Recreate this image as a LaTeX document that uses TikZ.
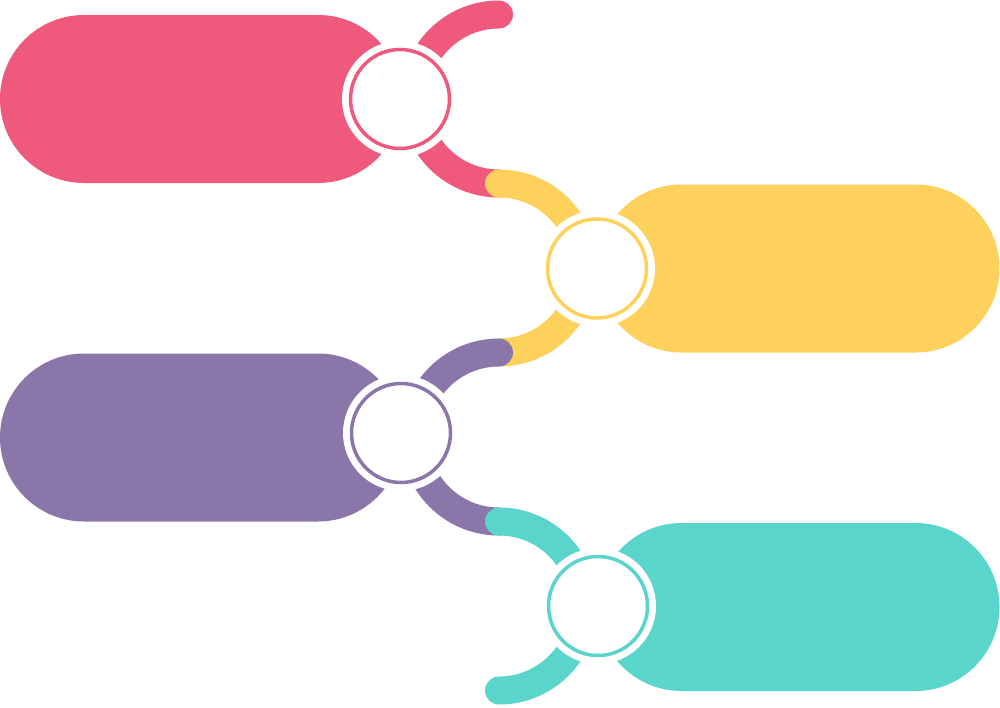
\documentclass[tikz,border=0pt]{standalone}
\usepackage{tikz}
\usetikzlibrary{calc,shapes.misc}
\definecolor{pinkc}{RGB}{239,89,124}
\definecolor{yellowc}{RGB}{254,208,92}
\definecolor{purplec}{RGB}{139,118,170}
\definecolor{tealc}{RGB}{89,213,203}
\begin{document}
\begin{tikzpicture}[x=1pt,y=-1pt]
                      \tikzstyle{pill}=[rounded rectangle,inner sep=0pt,minimum width=402pt,minimum height=168pt]
                      \tikzstyle{arm}=[line width=28pt,line cap=round]
                      \tikzstyle{hole}=[circle,fill=white,inner sep=0pt,minimum size=116pt]
                      \tikzstyle{ring}=[circle,fill=white,line width=3.5pt,inner sep=0pt,minimum size=99pt]
                      \useasboundingbox (0,0) rectangle (1000,707);
                      % pills
                      \node [pill, fill=pinkc] (p1) at (201,99) {};
                      \node [pill, fill=yellowc] (p2) at (798.5,268.5) {};
                      \node [pill, fill=purplec] (p3) at (201,437.5) {};
                      \node [pill, fill=tealc] (p4) at (798.5,607) {};
                      % joints of the arms
                      \coordinate (j0) at (499,14.5);
                      \coordinate (j1) at (499,183.5);
                      \coordinate (j2) at (499,352.5);
                      \coordinate (j3) at (499,521.5);
                      \coordinate (j4) at (499,690.5);
                      \draw [arm, pinkc] (j0) arc [start angle=90, end angle=270, radius=84.5pt];
                      \draw [arm, yellowc] (j1) arc [start angle=90, end angle=-90, radius=84.5pt];
                      \draw [arm, purplec] (j2) arc [start angle=90, end angle=270, radius=84.5pt];
                      \draw [arm, tealc] (j3) arc [start angle=90, end angle=-90, radius=84.5pt];
                      % circles
                      \node [hole] (h1) at (400,99) {};
                      \node [hole] (h2) at (597,268.5) {};
                      \node [hole] (h3) at (401,433) {};
                      \node [hole] (h4) at (598,606) {};
                      \node [ring, draw=pinkc] (c1) at (h1) {};
                      \node [ring, draw=yellowc] (c2) at (h2) {};
                      \node [ring, draw=purplec] (c3) at (h3) {};
                      \node [ring, draw=tealc] (c4) at (h4) {};
                  \end{tikzpicture}
\end{document}
